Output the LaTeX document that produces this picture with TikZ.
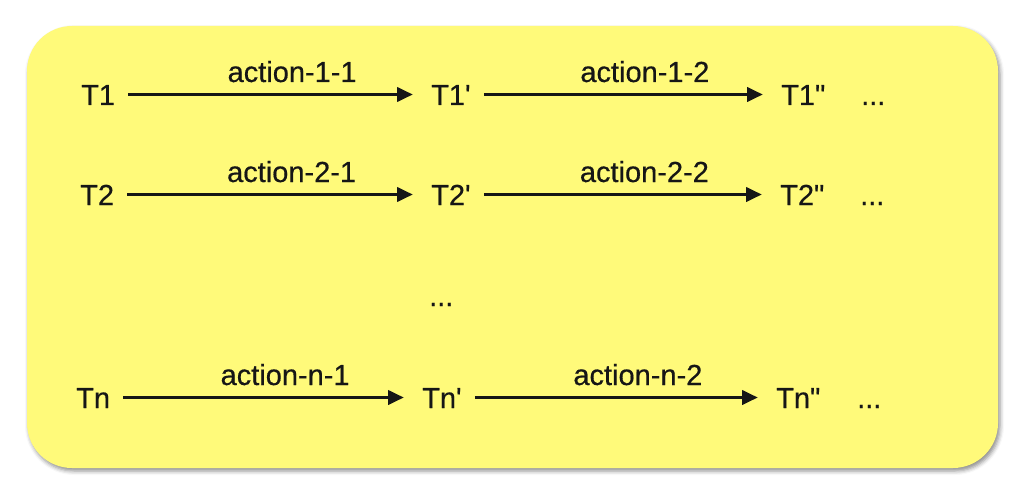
\documentclass[tikz,border=0pt]{standalone}
\usepackage{fontspec}
\setmainfont{Liberation Sans}[Ligatures=TeXOff, FakeBold=0.5]
\usetikzlibrary{arrows.meta,shadows.blur}
\definecolor{boxyellow}{RGB}{255,250,122}
\definecolor{ink}{RGB}{22,22,22}
\tikzset{
  tnode/.style={anchor=base west, inner sep=0pt, text height=21pt, text depth=0pt,
                font=\fontsize{29}{34}\selectfont, text=ink},
  lbl/.style={anchor=base, inner sep=0pt, xshift=19pt, yshift=12.5pt,
              font=\fontsize{29}{34}\selectfont, text=ink},
  arr/.style={draw=ink, line width=3.8pt,
              -{Triangle[length=16pt,width=14pt]},
              shorten <=13pt, shorten >=18pt},
  panel/.style={fill=boxyellow, draw=none, rounded corners=45pt,
                blur shadow={shadow xshift=2pt, shadow yshift=-3pt,
                             shadow opacity=45, shadow blur radius=4pt}}
}
\begin{document}
\begin{tikzpicture}[x=1pt,y=-1pt]
\useasboundingbox (0,0) rectangle (1016,484);
\fill[panel] (27,26) rectangle (998,468);

% row 1
\node[tnode] (a1) at (81,105) {T1};
\node[tnode] (b1) at (431,105) {T1'};
\node[tnode] (c1) at (781,105) {T1"};
\node[tnode] (d1) at (861,105) {...};
% row 2
\node[tnode] (a2) at (80,205) {T2};
\node[tnode] (b2) at (431,205) {T2'};
\node[tnode] (c2) at (780,205) {T2"};
\node[tnode] (d2) at (860,205) {...};
% middle dots
\node[tnode] (mid) at (429,306) {...};
% row n
\node[tnode] (an) at (76,408) {Tn};
\node[tnode] (bn) at (422,408) {Tn'};
\node[tnode] (cn) at (776,408) {Tn"};
\node[tnode] (dn) at (857,408) {...};

\draw[arr] (a1) -- node[lbl] (l11) {action-1-1} (b1);
\draw[arr] (b1) -- node[lbl] (l12) {action-1-2} (c1);
\draw[arr] (a2) -- node[lbl] (l21) {action-2-1} (b2);
\draw[arr] (b2) -- node[lbl] (l22) {action-2-2} (c2);
\draw[arr] (an) -- node[lbl] (ln1) {action-n-1} (bn);
\draw[arr] (bn) -- node[lbl] (ln2) {action-n-2} (cn);
\end{tikzpicture}
\end{document}
